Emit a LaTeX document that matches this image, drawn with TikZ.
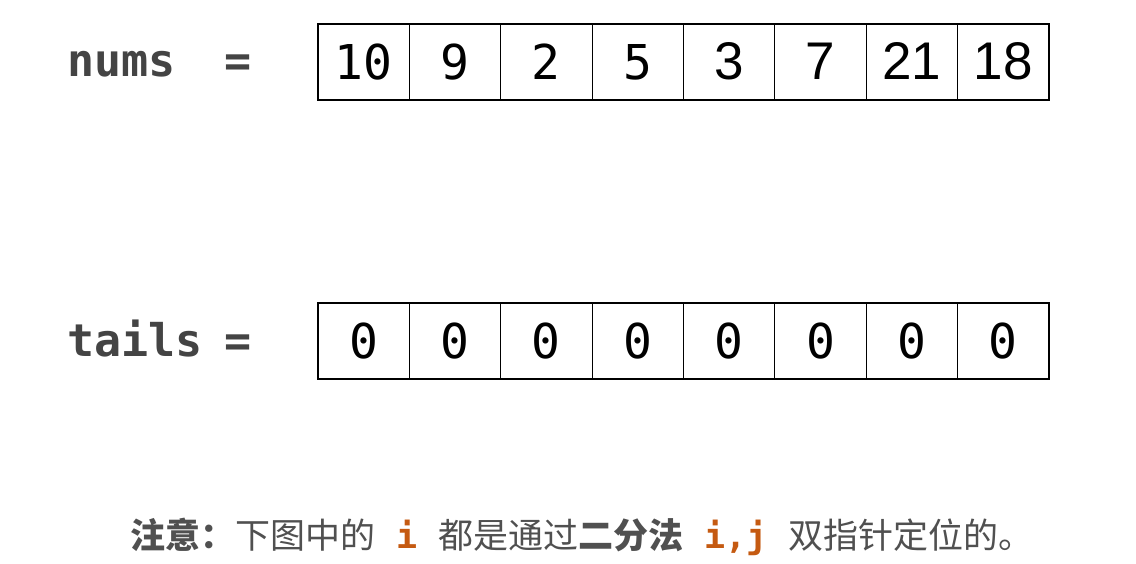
\documentclass[tikz,border=0pt]{standalone}
\usepackage{fontspec}
\usepackage{xcolor}
\newfontfamily\monofont{DejaVu Sans Mono}
\newfontfamily\digitfont{Liberation Sans}
\newfontfamily\cjk{Noto Sans CJK SC}
\definecolor{labelgray}{RGB}{68,68,68}
\definecolor{notegray}{RGB}{80,80,80}
\definecolor{ptrorange}{RGB}{197,90,17}
\newcommand{\ptrtext}[1]{{\monofont\bfseries\color{ptrorange}#1}}
\tikzset{
  cellbox/.style={draw=black, line width=1.1pt, minimum width=91.4pt, minimum height=76pt, inner sep=0pt},
  monodigit/.style={anchor=base, inner sep=0pt, font=\monofont\fontsize{48}{48}\selectfont},
  sansdigit/.style={anchor=base, inner sep=0pt, font=\digitfont\fontsize{53}{53}\selectfont},
  arrlabel/.style={anchor=base west, inner sep=0pt, text=labelgray, font=\monofont\bfseries\fontsize{45}{45}\selectfont},
}
\begin{document}
\begin{tikzpicture}[x=1pt,y=-1pt]
    \useasboundingbox (0,0) rectangle (1136,564);
        % array labels
        \node[arrlabel] (numslbl) at (67,77) {nums};
        \node[arrlabel] (numseq) at (224,77) {=};
        \node[arrlabel] (tailslbl) at (67,356) {tails};
        \node[arrlabel] (tailseq) at (224,356) {=};
        % nums row
        \foreach \v [count=\i] in {10,9,2,5,3,7,21,18} {
            \node[cellbox] (n\i) at ({318+91.375*(\i-0.5)},62) {};
        }
        \foreach \v [count=\i] in {10,9,2,5} {
            \node[monodigit] (nv\i) at ([yshift=-18pt]n\i.center) {\v};
        }
        \foreach \v [count=\i from 5] in {3,7,21,18} {
            \node[sansdigit] (nv\i) at ([yshift=-18pt]n\i.center) {\v};
        }
        % tails row
        \foreach \i in {1,...,8} {
            \node[cellbox] (t\i) at ({318+91.375*(\i-0.5)},341) {};
            \node[monodigit] (tv\i) at ([yshift=-18pt]t\i.center) {0};
        }
        % note
        \node[inner sep=0pt, text=notegray, font=\cjk\fontsize{35}{35}\selectfont] (note) at (582,537)
            {{\bfseries 注意：}下图中的\hspace{0.6em}\ptrtext{i}\hspace{0.6em}都是通过{\bfseries 二分法}\hspace{0.6em}\ptrtext{i,j}\hspace{0.6em}双指针定位的。};
\end{tikzpicture}
\end{document}
